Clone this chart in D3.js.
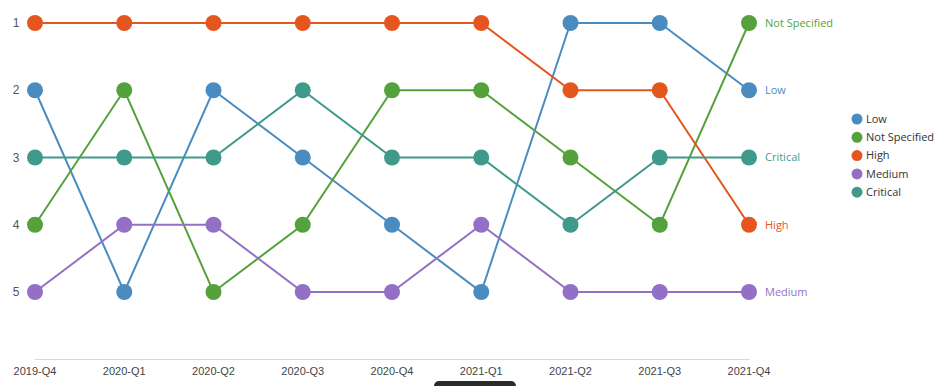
<!DOCTYPE html>
<html>
<head>
<meta charset="utf-8">
<script src="https://cdn.jsdelivr.net/npm/d3@7"></script>
<style>
  body { margin: 0; background: #fff; }
  svg { display: block; }
</style>
</head>
<body>
<svg id="chart"></svg>
<script>
// data
const quarters = ["2019-Q4", "2020-Q1", "2020-Q2", "2020-Q3", "2020-Q4", "2021-Q1", "2021-Q2", "2021-Q3", "2021-Q4"];
const seriesNames = ["Low", "Not Specified", "High", "Medium", "Critical"];
const lowRanks = [2, 5, 2, 3, 4, 5, 1, 1, 2];
const notSpecifiedRanks = [4, 2, 5, 4, 2, 2, 3, 4, 1];
const highRanks = [1, 1, 1, 1, 1, 1, 2, 2, 4];
const mediumRanks = [5, 4, 4, 5, 5, 4, 5, 5, 5];
const criticalRanks = [3, 3, 3, 2, 3, 3, 4, 3, 3];
const rankTicks = [1, 2, 3, 4, 5];

const colors = {
    "Low": "#4a8cc0",
    "Not Specified": "#55a23c",
    "High": "#e5561f",
    "Medium": "#9370c6",
    "Critical": "#3f9a8b"
};

const series = [
    {name: "Low", ranks: lowRanks},
    {name: "Not Specified", ranks: notSpecifiedRanks},
    {name: "High", ranks: highRanks},
    {name: "Medium", ranks: mediumRanks},
    {name: "Critical", ranks: criticalRanks}
];

const width = 936, height = 386;
const svg = d3.select("#chart").attr("width", width).attr("height", height);

const x = d3.scalePoint().domain(quarters).range([35, 749]);
const y = d3.scaleLinear().domain([1, 5]).range([23, 292]);

// x axis baseline + labels
svg.append("line")
    .attr("x1", 35).attr("x2", 750)
    .attr("y1", 359.5).attr("y2", 359.5)
    .attr("stroke", "#d8d8d8").attr("stroke-width", 1);

svg.append("g").selectAll("text")
    .data(quarters).join("text")
    .attr("x", d => x(d)).attr("y", 375)
    .attr("text-anchor", "middle")
    .style("font-family", "'Liberation Sans', Arial, sans-serif")
    .style("font-size", "11px")
    .attr("fill", "#444")
    .text(d => d);

// y labels
svg.append("g").selectAll("text")
    .data(rankTicks).join("text")
    .attr("x", 16).attr("y", d => y(d))
    .attr("dy", "0.35em")
    .attr("text-anchor", "middle")
    .style("font-family", "'Liberation Sans', Arial, sans-serif")
    .style("font-size", "12px")
    .attr("fill", "#555")
    .text(d => d);

const line = d3.line()
    .x((d, i) => x(quarters[i]))
    .y(d => y(d));

// lines
svg.append("g").selectAll("path")
    .data(series).join("path")
    .attr("d", d => line(d.ranks))
    .attr("fill", "none")
    .attr("stroke", d => colors[d.name])
    .attr("stroke-width", 2);

// dots
const dotGroups = svg.append("g").selectAll("g")
    .data(series).join("g")
    .attr("fill", d => colors[d.name]);

dotGroups.selectAll("circle")
    .data(d => d.ranks).join("circle")
    .attr("cx", (d, i) => x(quarters[i]))
    .attr("cy", d => y(d))
    .attr("r", 8);

// end labels
const last = quarters.length - 1;
svg.append("g").selectAll("text")
    .data(series).join("text")
    .attr("x", x(quarters[last]) + 16)
    .attr("y", d => y(d.ranks[last]))
    .attr("dy", "0.35em")
    .style("font-family", "'Open Sans', sans-serif")
    .style("font-size", "11px")
    .attr("fill", d => colors[d.name])
    .text(d => d.name);

// legend
const legend = svg.append("g").attr("transform", "translate(857,119)");
const legendItems = legend.selectAll("g")
    .data(seriesNames).join("g")
    .attr("transform", (d, i) => `translate(0,${i * 18.3})`);
legendItems.append("circle")
    .attr("r", 5.5)
    .attr("fill", d => colors[d]);
legendItems.append("text")
    .attr("x", 9).attr("dy", "0.35em")
    .style("font-family", "'Open Sans', sans-serif")
    .style("font-size", "11px")
    .attr("fill", "#333")
    .text(d => d);

// dark tab at the bottom edge
svg.append("rect")
    .attr("x", 434).attr("y", 381)
    .attr("width", 82).attr("height", 12)
    .attr("rx", 5)
    .attr("fill", "#2b2b2b");
</script>
</body>
</html>
